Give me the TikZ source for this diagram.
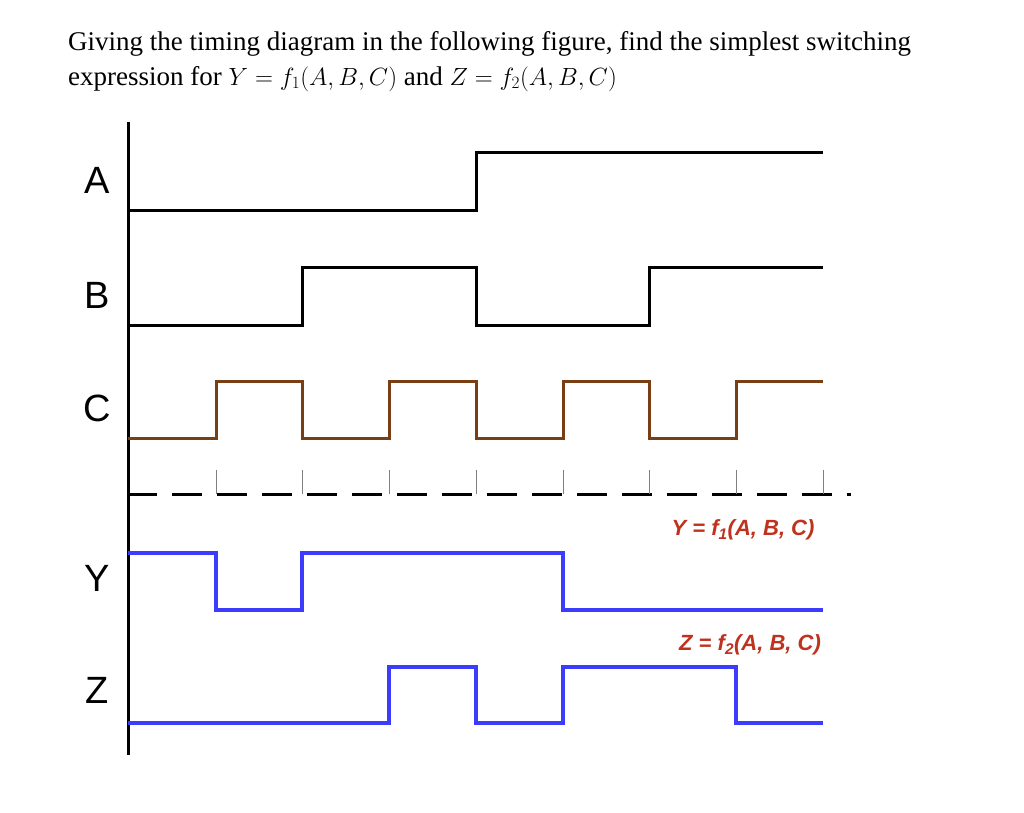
\documentclass[tikz,border=0pt]{standalone}
\usepackage{fontspec}
\setmainfont{Liberation Serif}
\newfontfamily\sigfont{Liberation Sans}
\usepackage{tikz}
\usetikzlibrary{positioning}

\definecolor{wavebrown}{RGB}{120,62,20}
\definecolor{waveblue}{RGB}{60,60,255}
\definecolor{fnred}{RGB}{190,50,30}

\begin{document}
\begin{tikzpicture}[x=1pt,y=-1pt]
                \tikzset{sig/.style={font=\sigfont\fontsize{38}{40}\selectfont},
                         fnlabel/.style={font=\sigfont\bfseries\itshape\fontsize{22}{24}\selectfont,text=fnred},
                         wave/.style={line width=3pt,black,line join=miter},
                         cwave/.style={line width=3pt,wavebrown},
                         owave/.style={line width=4pt,waveblue}}
                \useasboundingbox (0,0) rectangle (1024,812);
                % question text
                \node (q1) [anchor=base west,inner sep=0pt,font=\fontsize{27}{30}\selectfont] at (68,50)
                    {Giving the timing diagram in the following figure, find the simplest switching};
                \node (q2) [anchor=base west,inner sep=0pt,font=\fontsize{27}{30}\selectfont] at (68,85)
                    {expression for $Y=f_1(A,B,C)$ and $Z=f_2(A,B,C)$};
                % axis
                \draw [line width=3pt] (128,122) -- (128,755);
                % signal names
                \node (la) [sig] at (97,180) {A};
                \node (lb) [sig] at (97,295) {B};
                \node (lc) [sig] at (97,408) {C};
                \node (ly) [sig] at (97,578) {Y};
                \node (lz) [sig] at (97,690) {Z};
                % inputs
                \draw [wave] (128,210) -- (476,210) -- (476,152) -- (823,152);
                \draw [wave] (128,325) -- (302,325) -- (302,267) -- (476,267) -- (476,325)
                    -- (649,325) -- (649,267) -- (823,267);
                \draw [cwave] (128,438) -- (216,438) -- (216,381) -- (302,381) -- (302,438)
                    -- (389,438) -- (389,381) -- (476,381) -- (476,438) -- (563,438)
                    -- (563,381) -- (649,381) -- (649,438) -- (736,438) -- (736,381) -- (823,381);
                % time marks
                \draw [line width=3pt,dash pattern=on 30pt off 15pt] (127,494) -- (851,494);
                \foreach \t in {216,302,389,476,563,649,736,823}
                    \draw [gray,line width=1pt] (\t,470) -- (\t,494);
                % outputs
                \node (fy) [fnlabel] at (743,530) {Y = f\textsubscript{1}(A, B, C)};
                \draw [owave] (128,553) -- (216,553) -- (216,610) -- (302,610) -- (302,553)
                    -- (563,553) -- (563,610) -- (823,610);
                \node (fz) [fnlabel] at (750,645) {Z = f\textsubscript{2}(A, B, C)};
                \draw [owave] (128,723) -- (389,723) -- (389,667) -- (476,667) -- (476,723)
                    -- (563,723) -- (563,667) -- (736,667) -- (736,723) -- (823,723);
            \end{tikzpicture}
\end{document}
